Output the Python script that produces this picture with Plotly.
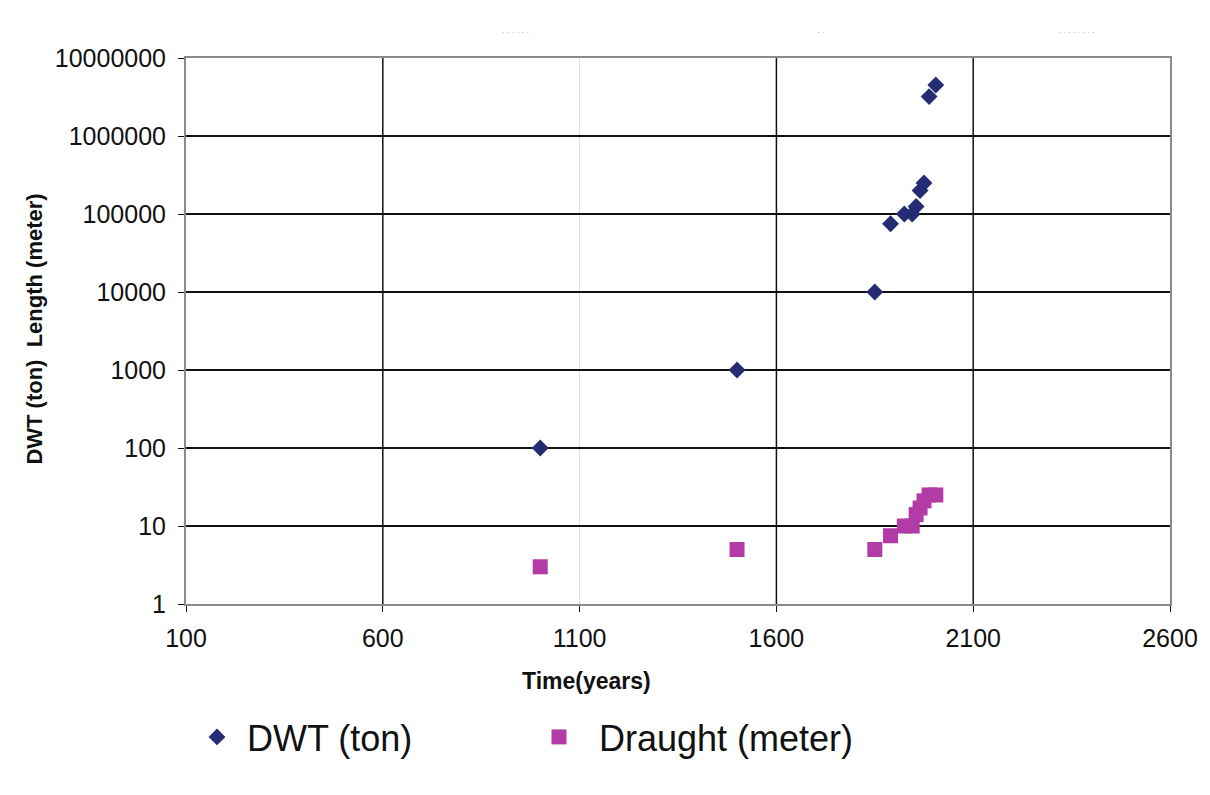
import plotly.graph_objects as go

years = [1000, 1500, 1850, 1890, 1925, 1945, 1955, 1965, 1975, 1988, 2005]
dwt_ton = [100, 1000, 10000, 75000, 100000, 100000, 125000, 200000, 250000, 3200000, 4500000]
draught_m = [3, 5, 5, 7.5, 10, 10, 14, 17, 21, 25, 25]

x_ticks = [100, 600, 1100, 1600, 2100, 2600]
y_ticks = [1, 10, 100, 1000, 10000, 100000, 1000000, 10000000]
y_labels = [str(v) for v in y_ticks]

FONT = "Liberation Sans, Arial, sans-serif"
NB = "\u00a0"

fig = go.Figure()
fig.add_trace(go.Scatter(
    x=years, y=dwt_ton, mode="markers", name=NB + "DWT (ton)",
    marker=dict(symbol="diamond", size=13, color="#262C74", line=dict(width=0)),
))
fig.add_trace(go.Scatter(
    x=years, y=draught_m, mode="markers", name=NB + NB + "Draught (meter)",
    marker=dict(symbol="square", size=15, color="#B33BA6", line=dict(width=0)),
))

# vertical gridlines (the 1100 one is faint in the reference)
shapes = []
for xv in x_ticks[1:-1]:
    shapes.append(dict(
        type="line", xref="x", yref="paper", x0=xv, x1=xv, y0=0, y1=1,
        line=dict(color="#dddddd" if xv == 1100 else "#111111", width=1.5 if xv != 1100 else 1),
        layer="below",
    ))

annotations = [
    dict(text="<b>Time(years)</b>", xref="paper", yref="paper", x=(588 - 186) / 988,
         y=-(681 - 604) / 546, showarrow=False, xanchor="center", yanchor="middle",
         font=dict(family=FONT, size=23, color="#111111")),
    dict(text="<b>DWT (ton)  Length (meter)</b>", xref="paper", yref="paper",
         x=-(186 - 33) / 988, y=(604 - 329) / 546, showarrow=False, textangle=-90,
         xanchor="center", yanchor="middle",
         font=dict(family=FONT, size=22, color="#111111")),
]
for xp, txt in [(517, "· · · · · ·"), (824, "· ·"), (1080, "· · · · · · · ·")]:
    annotations.append(dict(text=txt, xref="paper", yref="paper", x=(xp - 186) / 988,
                            y=(604 - 26) / 546, showarrow=False, xanchor="center",
                            font=dict(family=FONT, size=8, color="#999999")))

fig.update_layout(
    width=1210, height=795,
    margin=dict(l=186, r=36, t=58, b=191),
    paper_bgcolor="white", plot_bgcolor="white",
    font=dict(family=FONT, color="#111111"),
    showlegend=True,
    legend=dict(
        orientation="h", xref="container", yref="container",
        x=197 / 1210, y=1 - 737 / 795, xanchor="left", yanchor="middle",
        font=dict(family=FONT, size=36, color="#111111"),
        entrywidth=297, entrywidthmode="pixels",
        bgcolor="rgba(0,0,0,0)",
    ),
    shapes=shapes,
    annotations=annotations,
    xaxis=dict(
        range=[100, 2600], tickmode="array", tickvals=x_ticks,
        ticktext=[str(v) for v in x_ticks],
        showgrid=False, zeroline=False,
        showline=True, linecolor="#8a8a8a", linewidth=2, mirror=True,
        ticks="outside", ticklen=6, tickcolor="#111111", tickwidth=1,
        ticklabelstandoff=5,
        tickfont=dict(family=FONT, size=25, color="#111111"),
    ),
    yaxis=dict(
        type="log", range=[0, 7], tickmode="array", tickvals=y_ticks, ticktext=y_labels,
        showgrid=True, gridcolor="#111111", gridwidth=1.5, zeroline=False,
        showline=True, linecolor="#8a8a8a", linewidth=2, mirror=True,
        ticks="outside", ticklen=6, tickcolor="#111111", tickwidth=1,
        ticklabelstandoff=7,
        tickfont=dict(family=FONT, size=25, color="#111111"),
    ),
)

fig.write_html("out.html")
